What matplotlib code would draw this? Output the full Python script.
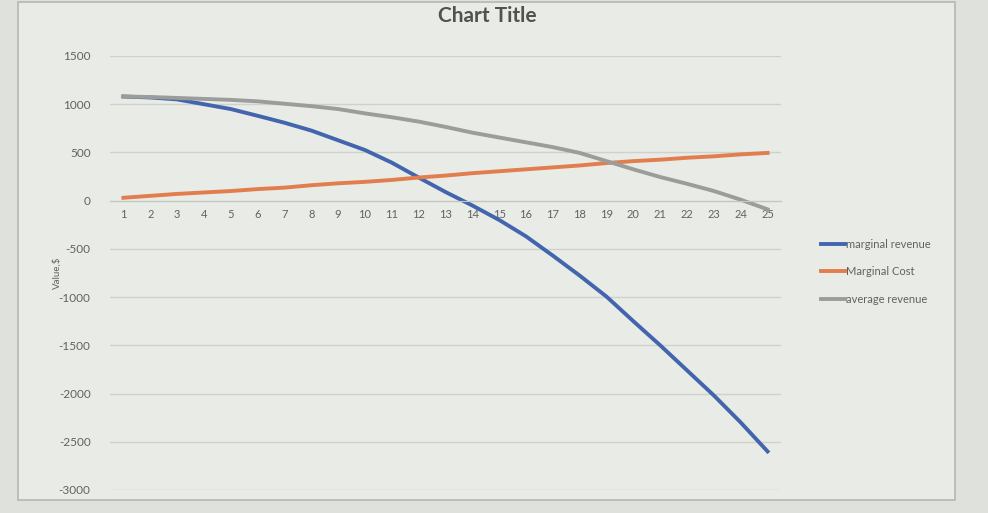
import matplotlib
matplotlib.use("Agg")
import matplotlib.pyplot as plt
from matplotlib.patches import Rectangle

# data
quantity = list(range(1, 26))
marginal_revenue = [1080, 1070, 1050, 1000, 950, 880, 808, 727, 626, 525,
                    394, 240, 90, -50, -200, -370, -570, -777, -995, -1250,
                    -1500, -1760, -2020, -2300, -2600]
marginal_cost = [30, 50, 70, 85, 100, 120, 135, 160, 180, 195,
                 215, 240, 260, 285, 305, 325, 345, 365, 390, 410,
                 425, 445, 460, 480, 495]
average_revenue = [1080, 1075, 1065, 1055, 1045, 1030, 1005, 980, 950, 905,
                   865, 820, 765, 705, 655, 605, 555, 495, 410, 325,
                   245, 175, 100, 10, -90]

y_ticks = [1500, 1000, 500, 0, -500, -1000, -1500, -2000, -2500, -3000]

plt.rcParams['font.family'] = ['Lato', 'DejaVu Sans']
plt.rcParams['axes.unicode_minus'] = False

fig = plt.figure(figsize=(9.88, 5.13), dpi=100)
fig.patch.set_facecolor('#dfe2dc')

# chart area frame
fig.add_artist(Rectangle((18 / 988, 1 - 500 / 513), (955 - 18) / 988, 498 / 513,
                         transform=fig.transFigure, facecolor='#e9ebe6',
                         edgecolor='#b5b8b2', linewidth=1.2, zorder=0))

ax = fig.add_axes([110 / 988, 1 - 490 / 513, 671 / 988, 434 / 513])
ax.set_facecolor('none')

ax.plot(quantity, marginal_revenue, color='#4265ad', lw=2.8, label='marginal revenue')
ax.plot(quantity, marginal_cost, color='#e27d4e', lw=2.8, label='Marginal Cost')
ax.plot(quantity, average_revenue, color='#9b9d9b', lw=2.8, label='average revenue')

ax.set_xlim(0.5, 25.5)
ax.set_ylim(-3000, 1500)
ax.set_yticks(y_ticks)
ax.set_xticks(quantity)
ax.tick_params(axis='both', length=0, colors='#5f6360')
ax.tick_params(axis='y', pad=14, labelsize=8.5)
ax.tick_params(axis='x', pad=6, labelsize=8)
ax.yaxis.grid(True, color='#cfd2cc', lw=1)
ax.set_axisbelow(True)

for side in ['top', 'right', 'left']:
    ax.spines[side].set_visible(False)
ax.spines['bottom'].set_position(('data', 0))
ax.spines['bottom'].set_color('#c4c7c1')

ax.set_ylabel('Value,$', fontsize=7, color='#5f6360')
ax.yaxis.set_label_coords(-0.072, 0.5)

fig.text(487 / 988, 1 - 16 / 513, 'Chart Title', ha='center', va='center',
         fontsize=15, fontweight='bold', color='#4f524f')

fig.legend(loc='upper left', bbox_to_anchor=(815 / 988, 1 - 233 / 513),
           frameon=False, fontsize=8, handlelength=2.2, handletextpad=0.1,
           labelspacing=1.5, borderpad=0, labelcolor='#5f6360')

fig.savefig('out.png', dpi=100, facecolor=fig.get_facecolor())
